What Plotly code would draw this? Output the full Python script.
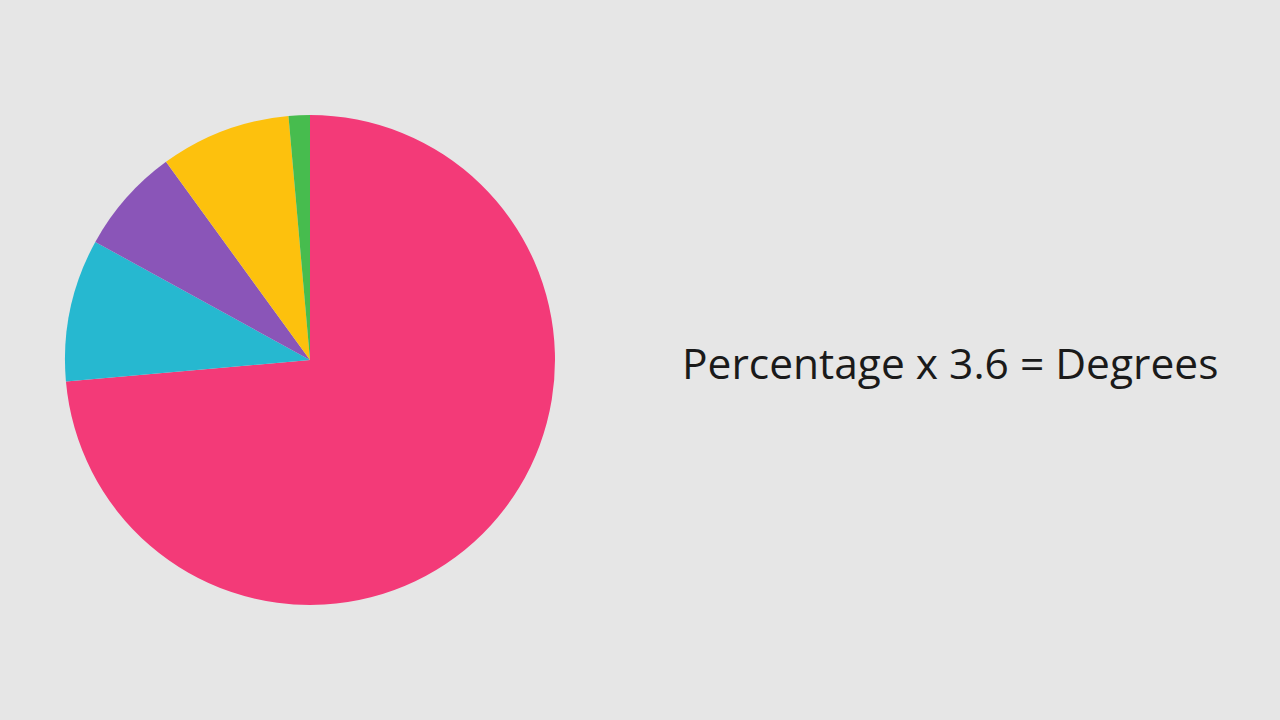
import plotly.graph_objects as go

# slices, clockwise from 12 o'clock
labels = ["Pink", "Cyan", "Purple", "Yellow", "Green"]
values = [73.6, 9.4, 7.0, 8.6, 1.4]
colors = ["#F33A78", "#26B8D0", "#8A55B8", "#FDC10D", "#47BC4E"]

caption = "Percentage x 3.6 = Degrees"

fig = go.Figure(
    data=[
        go.Pie(
            labels=labels,
            values=values,
            sort=False,
            direction="clockwise",
            rotation=0,
            marker=dict(colors=colors, line=dict(width=0)),
            textinfo="none",
            hoverinfo="label+percent",
            showlegend=False,
            domain=dict(x=[65 / 1280, 555 / 1280], y=[1 - 605 / 720, 1 - 115 / 720]),
        )
    ]
)

fig.add_annotation(
    text=caption,
    x=950 / 1280,
    y=1 - 362 / 720,
    xref="paper",
    yref="paper",
    xanchor="center",
    yanchor="middle",
    showarrow=False,
    font=dict(family="Open Sans", size=42.5, color="#1a1a1a"),
)

fig.update_layout(
    width=1280,
    height=720,
    paper_bgcolor="#E6E6E6",
    plot_bgcolor="#E6E6E6",
    margin=dict(l=0, r=0, t=0, b=0),
)

# drop the browser's default body margin so the figure fills the window
fig.write_html(
    "out.html",
    config={"displayModeBar": False},
    post_script="document.body.style.margin='0';",
)
